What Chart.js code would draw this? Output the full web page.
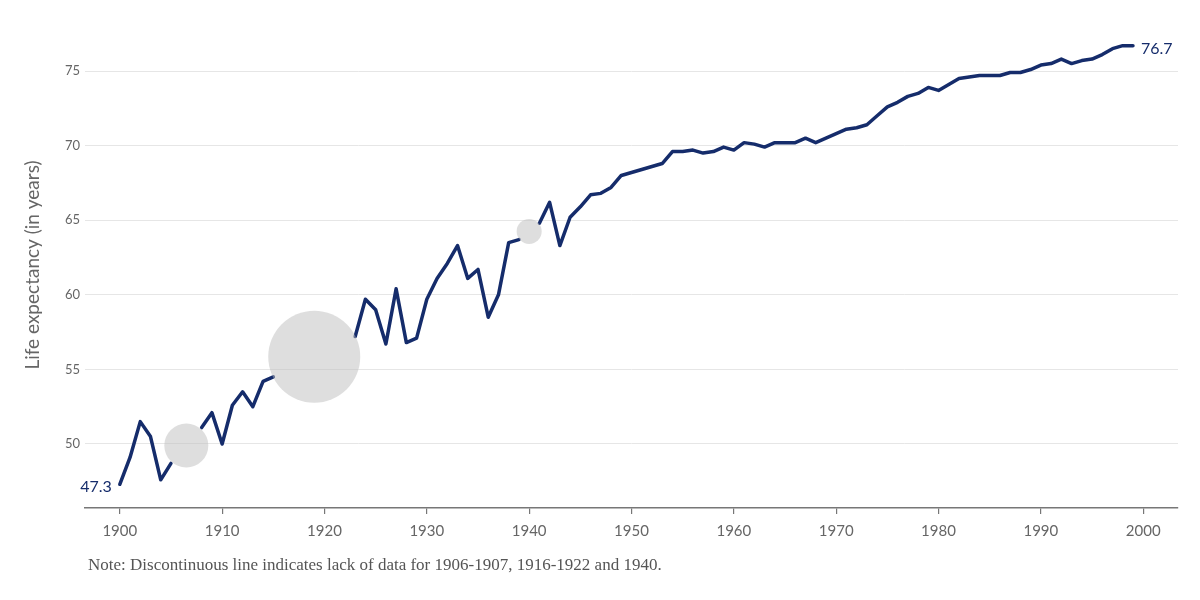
<!DOCTYPE html>
<html>
<head>
<meta charset="utf-8">
<title>Life expectancy</title>
<script src="https://cdn.jsdelivr.net/npm/chart.js@4.4.1/dist/chart.umd.min.js"></script>
<style>
  body { margin: 0; background: #fff; }
  canvas { display: block; }
</style>
</head>
<body>
<canvas id="lifeChart" width="1200" height="600"></canvas>
<script>
// Data (null = no data for that year)
const firstYear = 1900;
const lifeExpectancy = [
  47.3, 49.1, 51.5, 50.5, 47.6, 48.7, null, null, 51.1, 52.1,
  50.0, 52.6, 53.5, 52.5, 54.2, 54.5, null, null, null, null,
  null, null, null, 57.2, 59.7, 59.0, 56.7, 60.4, 56.8, 57.1,
  59.7, 61.1, 62.1, 63.3, 61.1, 61.7, 58.5, 60.0, 63.5, 63.7,
  null, 64.8, 66.2, 63.3, 65.2, 65.9, 66.7, 66.8, 67.2, 68.0,
  68.2, 68.4, 68.6, 68.8, 69.6, 69.6, 69.7, 69.5, 69.6, 69.9,
  69.7, 70.2, 70.1, 69.9, 70.2, 70.2, 70.2, 70.5, 70.2, 70.5,
  70.8, 71.1, 71.2, 71.4, 72.0, 72.6, 72.9, 73.3, 73.5, 73.9,
  73.7, 74.1, 74.5, 74.6, 74.7, 74.7, 74.7, 74.9, 74.9, 75.1,
  75.4, 75.5, 75.8, 75.5, 75.7, 75.8, 76.1, 76.5, 76.7, 76.7
];

// Grey circles marking the gaps
const gapYears = [1906.5, 1919, 1940];
const gapValues = [49.9, 55.85, 64.25];
const gapSizes = [22, 46, 12.5];

const xTicks = [1900, 1910, 1920, 1930, 1940, 1950, 1960, 1970, 1980, 1990, 2000];
const yTicks = [50, 55, 60, 65, 70, 75];

const firstLabel = '47.3';
const lastLabel = '76.7';
const yTitle = 'Life expectancy (in years)';
const noteText = 'Note: Discontinuous line indicates lack of data for 1906-1907, 1916-1922 and 1940.';

const navy = '#152c6b';
const gray = '#666666';

const linePoints = lifeExpectancy.map((v, i) => ({ x: firstYear + i, y: v }));
const gapPoints = gapYears.map((yr, i) => ({ x: yr, y: gapValues[i], r: gapSizes[i] }));

// Extra text: axis title, end labels, note
const annotations = {
  id: 'annotations',
  afterDraw(chart) {
    const ctx = chart.ctx;
    const xs = chart.scales.x, ys = chart.scales.y;
    ctx.save();

    // y axis title
    ctx.translate(33, 265);
    ctx.rotate(-Math.PI / 2);
    ctx.font = '19px Lato';
    ctx.fillStyle = gray;
    ctx.textAlign = 'center';
    ctx.textBaseline = 'middle';
    ctx.fillText(yTitle, 0, 0);
    ctx.setTransform(chart.currentDevicePixelRatio, 0, 0, chart.currentDevicePixelRatio, 0, 0);

    // first / last values
    const first = linePoints[0];
    const last = linePoints[linePoints.length - 1];
    ctx.font = '16px Lato';
    ctx.fillStyle = navy;
    ctx.textBaseline = 'middle';
    ctx.textAlign = 'right';
    ctx.fillText(firstLabel, xs.getPixelForValue(first.x) - 8, ys.getPixelForValue(first.y) + 3);
    ctx.textAlign = 'left';
    ctx.fillText(lastLabel, xs.getPixelForValue(last.x) + 8, ys.getPixelForValue(last.y) + 3);

    // note
    ctx.font = '17px "Liberation Serif"';
    ctx.fillStyle = '#555555';
    ctx.textAlign = 'left';
    ctx.fillText(noteText, 88, 566);
    ctx.restore();
  }
};

new Chart(document.getElementById('lifeChart'), {
  type: 'line',
  data: {
    datasets: [{
      type: 'bubble',
      data: gapPoints,
      backgroundColor: 'rgba(190, 190, 190, 0.5)',
      borderWidth: 0,
      hoverRadius: 0
    }, {
      type: 'line',
      data: linePoints,
      borderColor: navy,
      borderWidth: 3.5,
      borderCapStyle: 'round',
      borderJoinStyle: 'round',
      pointRadius: 0,
      tension: 0,
      spanGaps: false,
      fill: false
    }]
  },
  options: {
    responsive: false,
    animation: false,
    layout: { autoPadding: false, padding: { left: 0, right: 22, top: 20, bottom: 0 } },
    plugins: {
      legend: { display: false },
      tooltip: { enabled: false }
    },
    scales: {
      x: {
        type: 'linear',
        min: 1896.6,
        max: 2003.4,
        afterBuildTicks: s => { s.ticks = xTicks.map(v => ({ value: v })); },
        afterFit: s => { s.height = 92; },
        grid: { drawOnChartArea: false, drawTicks: true, tickLength: 6, color: '#777777', lineWidth: 1.2 },
        border: { display: true, color: '#777777', width: 1.5 },
        ticks: {
          color: gray,
          font: { family: 'Lato', size: 15 },
          padding: 8,
          maxRotation: 0,
          callback: v => String(v)
        }
      },
      y: {
        type: 'linear',
        min: 45.71,
        max: 78.42,
        afterBuildTicks: s => { s.ticks = yTicks.map(v => ({ value: v })); },
        afterFit: s => { s.width = 85; },
        grid: { color: '#e6e6e6', lineWidth: 1, drawTicks: false },
        border: { display: false },
        ticks: {
          color: gray,
          font: { family: 'Lato', size: 13 },
          padding: 5
        }
      }
    }
  },
  plugins: [annotations]
});
</script>
</body>
</html>
